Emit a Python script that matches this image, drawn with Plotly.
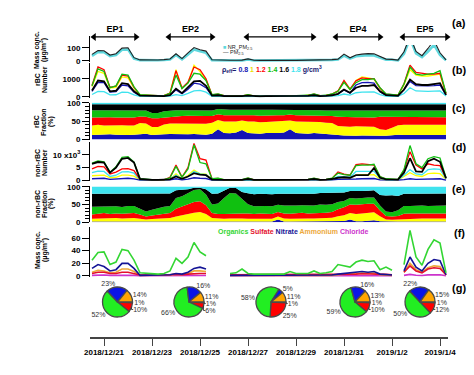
import plotly.graph_objects as go
import pandas as pd

# ---------------- data ----------------
time = pd.date_range("2018-12-20 12:00", periods=60, freq="6h")

# (a) mass concentration (ug/m3)
pm25 = [50,80,78,45,55,98,100,25,8,6, 5,7,10,15,55,18,62,102,85,75,
        9,6,5,5,5,6,16,5,4,5, 4,5,4,5,4,5,6,8,5,7,
        10,14,52,24,46,52,56,54,34,14, 12,6,70,188,72,40,95,158,62,9]
nr_pm25 = [38,68,66,36,45,85,88,18,6,4, 4,5,7,11,45,12,50,88,74,62,
           6,4,3,3,3,4,11,3,3,3, 3,3,3,3,3,3,4,6,4,5,
           8,11,40,18,36,40,44,42,27,10, 9,4,55,172,58,30,72,122,46,5]

# (b) rBC number by effective density
rbc_08 = [300,800,780,260,280,650,600,250,50,40, 35,30,30,80,380,170,420,750,700,500,
          50,70,30,22,22,25,50,22,20,25, 22,22,25,22,30,25,40,70,30,40,
          70,150,380,200,650,780,800,750,280,80, 60,45,380,850,620,600,600,620,650,90]
rbc_10 = [560,1400,1300,480,520,1100,1050,480,90,70, 60,50,55,190,1500,460,780,1750,1400,950,
          90,130,50,38,35,42,90,35,32,40, 35,38,40,35,50,42,70,130,50,70,
          140,300,850,400,900,1100,1050,980,450,130, 100,80,650,1500,1200,1150,1150,1200,1250,170]
rbc_12 = [620,1650,1500,520,580,1200,1150,520,100,75, 65,55,60,200,1450,480,800,1650,1500,1000,
          100,140,55,40,40,45,100,40,35,45, 40,40,45,40,55,45,75,140,55,75,
          150,320,900,420,880,1050,1000,1000,480,140, 110,85,720,1750,1350,1300,1250,1250,1300,180]
rbc_14 = [600,1550,1400,500,600,1250,1200,550,110,80, 70,60,60,180,1200,450,750,1300,1250,900,
          110,150,60,45,40,50,110,40,40,50, 40,45,50,40,60,50,80,150,60,80,
          150,300,800,400,780,950,950,1000,500,150, 120,90,700,1650,1250,1200,1250,1300,1450,200]
rbc_16 = [350,900,850,300,330,750,700,300,60,45, 40,35,35,90,450,200,500,850,880,600,
          60,80,35,25,25,30,60,25,22,28, 25,25,28,25,35,28,45,80,35,45,
          80,160,400,220,500,600,600,650,300,90, 70,50,400,950,700,650,650,700,750,100]
rbc_18 = [120,300,280,100,110,250,240,100,20,15, 12,10,12,30,120,60,180,320,350,250,
          20,30,12,10,10,10,20,10,8,10, 8,10,10,8,12,10,15,30,12,15,
          30,60,150,90,220,260,280,270,120,35, 25,20,180,500,320,300,300,310,320,40]

# (c) rBC fraction (%)
rbcf_08 = [12,13,12,14,13,12,12,13, 15,16,12,12,14,15, 14,13,14,15,14,13,
           16,28,18,17,19,26,18,17,16,18,17,18,19,28,18,17,16,18,17,16,15,
           12,11,10,10,11,10,10,10,10,12,13, 12,13,12,12,13,12,12,13]
rbcf_10 = [26,27,26,25,26,27,26,25, 30,28,22,22,27,29, 30,31,30,29,30,30,
           30,25,31,32,30,26,31,32,31,30,32,31,30,24,31,32,31,30,31,30,30,
           25,24,25,26,25,24,25,18,16,20,26, 28,27,28,27,28,27,28,27]
rbcf_12 = [22,21,22,22,21,22,22,22, 18,18,24,24,19,18, 20,20,21,20,20,21,
           18,16,17,17,17,16,17,17,18,18,17,17,17,16,17,17,18,18,17,18,19,
           25,26,26,25,25,26,25,34,36,30,24, 22,22,21,22,21,22,22,21]
rbcf_14 = [20,19,20,18,19,20,20,19, 17,17,14,14,17,17, 16,16,15,16,16,16,
           15,14,15,15,15,14,15,15,15,15,15,15,15,14,15,15,15,15,15,15,15,
           18,18,18,18,18,19,19,16,17,17,17, 18,18,19,18,18,19,18,18]
rbcf_16 = [16,16,16,17,17,15,16,17, 16,17,24,24,19,17, 16,16,16,16,16,16,
           17,14,16,16,16,15,16,16,17,16,16,16,16,15,16,16,17,16,17,18,18,
           16,17,17,17,17,17,17,18,17,17,16, 16,16,16,17,16,16,16,17]
rbcf_18 = [4,4,4,4,4,4,4,4, 4,4,4,4,4,4, 4,4,4,4,4,4,
           4,3,3,3,3,3,3,3,3,3,3,3,3,3,3,3,3,3,3,3,3,
           4,4,4,4,4,4,4,4,4,4,4, 4,4,4,4,4,4,4,4]

# (d) non-rBC number (x10^3)
nrbc_08 = [0.6,0.8,0.8,0.4,0.5,0.8,0.8,0.6,0.1,0.1, 0.1,0.1,0.1,0.2,0.6,0.2,0.5,1.0,0.8,0.7,
           0.1,0.1,0.1,0.1,0.1,0.1,0.2,0.1,0.1,0.1, 0.1,0.1,0.1,0.1,0.1,0.1,0.1,0.2,0.1,0.1,
           0.2,0.4,0.4,0.3,0.5,0.6,0.6,0.7,0.2,0.1, 0.1,0.1,0.3,0.6,0.4,0.4,0.5,0.6,0.6,0.1]
nrbc_10 = [1.8,2.0,2.0,1.0,1.2,2.0,2.0,1.6,0.2,0.2, 0.1,0.1,0.1,0.4,2.5,0.6,2.0,4.0,2.6,2.4,
           0.2,0.3,0.1,0.1,0.1,0.1,0.3,0.1,0.1,0.1, 0.1,0.1,0.1,0.1,0.1,0.1,0.2,0.3,0.1,0.2,
           0.3,1.2,1.0,0.9,2.0,2.2,2.1,2.2,0.5,0.2, 0.2,0.1,1.5,3.0,1.8,1.5,2.6,2.8,2.6,0.4]
nrbc_12 = [4.5,5.5,5.3,2.5,3.2,4.5,4.6,3.8,0.4,0.3, 0.2,0.2,0.2,1.2,6.0,1.3,5.0,14.5,8.5,8.0,
           0.5,0.7,0.2,0.2,0.2,0.2,0.8,0.2,0.2,0.2, 0.2,0.2,0.2,0.2,0.2,0.2,0.3,0.7,0.3,0.3,
           0.7,3.3,2.4,2.0,6.2,6.5,6.3,6.0,1.4,0.5, 0.4,0.3,4.0,11.3,6.0,4.5,6.5,6.0,5.8,0.8]
nrbc_14 = [6.8,7.6,7.3,3.2,5.3,9.0,9.3,7.2,0.6,0.4, 0.3,0.3,0.3,1.0,5.5,1.2,4.5,14.0,7.0,6.5,
           0.6,0.8,0.3,0.2,0.2,0.3,0.9,0.2,0.2,0.2, 0.2,0.2,0.2,0.3,0.2,0.3,0.4,0.8,0.3,0.4,
           0.8,2.8,2.2,2.0,5.8,6.0,6.0,6.3,1.5,0.6, 0.5,0.4,4.2,13.7,6.5,5.0,8.5,9.3,8.8,1.0]
nrbc_16 = [6.5,7.2,7.0,3.0,5.0,8.5,8.8,7.0,0.5,0.3, 0.2,0.2,0.2,0.4,1.5,0.6,1.5,2.8,2.2,2.0,
           0.3,0.4,0.2,0.2,0.2,0.2,0.5,0.2,0.2,0.2, 0.2,0.2,0.2,0.2,0.2,0.2,0.3,0.5,0.2,0.3,
           0.5,1.0,1.2,1.0,2.0,2.0,2.0,4.8,1.0,0.4, 0.3,0.3,3.0,8.7,3.5,3.3,7.5,8.5,7.3,0.8]
nrbc_18 = [3.0,3.6,3.5,1.5,2.0,3.3,3.4,2.8,0.3,0.2, 0.2,0.2,0.2,0.5,2.0,0.6,1.5,3.5,2.5,2.2,
           0.3,0.3,0.1,0.1,0.1,0.1,0.3,0.1,0.1,0.1, 0.1,0.1,0.1,0.1,0.1,0.1,0.2,0.3,0.1,0.2,
           0.3,1.5,1.3,1.2,3.5,3.5,3.4,3.5,0.8,0.3, 0.2,0.2,2.0,4.2,2.5,2.2,4.2,4.5,4.3,0.5]

# (e) non-rBC fraction (%)
nrbcf_08 = [2,2,2,2,2,2,2,2, 2,2,2,2,2,2, 2,2,3,3,3,3,
            2,2,2,2,2,2,2,2,2,2,2,8,2,2,2,2,2,2,2,2,2,
            3,4,8,3,3,4,6,3,2,2,2, 2,2,2,2,2,2,2,2]
nrbcf_10 = [8,9,10,9,10,9,10,10, 8,6,7,8,9,10, 14,18,20,24,26,20,
            10,8,8,9,10,9,8,8,9,8,8,9,9,8,9,10,9,9,10,10,11,
            14,16,18,20,22,22,22,14,6,5,6, 8,9,8,9,9,8,9,9]
nrbcf_12 = [12,13,14,12,13,13,14,14, 12,8,10,12,13,14, 22,25,28,30,30,25,
            14,13,13,14,15,14,14,13,14,14,13,14,14,14,14,15,14,14,15,15,16,
            20,22,24,26,26,26,24,16,10,9,10, 14,14,15,14,14,15,14,14]
nrbcf_14 = [22,20,20,21,20,19,20,20, 16,14,16,18,20,20, 30,28,30,34,34,30,
            24,30,45,60,58,40,26,22,21,22,22,21,22,22,22,21,22,22,23,22,22,
            20,18,18,18,18,18,18,14,12,12,16, 22,21,22,22,21,22,22,22]
nrbcf_16 = [36,36,34,36,35,37,34,34, 42,50,45,40,37,35, 22,18,12,6,4,15,
            30,28,20,15,16,20,30,34,34,33,34,33,33,33,33,32,33,33,32,33,32,
            27,24,20,20,19,19,20,30,45,48,40, 34,34,33,34,34,33,34,34]
nrbcf_18 = [20,20,20,20,20,20,20,20, 20,20,20,20,19,19, 10,9,7,3,3,7,
            20,19,12,3,4,15,18,21,20,21,21,21,20,21,20,20,20,20,18,18,17,
            16,16,12,13,12,11,10,23,25,24,26, 20,20,20,19,20,20,19,19]

# (f) NR-PM1 species (ug/m3)
organics = [25,37,38,18,22,42,40,25,5,4, 3,3,4,8,28,20,30,53,38,32,
            None,None,None,4,5,11,4,3,3,3, 4,3,3,7,4,4,4,8,4,5,
            7,18,16,14,22,25,23,24,10,14, 9,None,18,72,30,17,42,57,52,5]
sulfate = [4,6,6,4,4,6,6,4,1.5,1.5, 1.5,1.5,1.5,2,3,2,3,4,4,4,
           None,None,None,2,2,2.5,2,2,2,2, 2,2,2,2.5,2,2,2,2.5,2,2,
           2.5,3,3,3,3,3.5,3.5,3.5,2.5,2.5, 2,None,6,16,8,5,11,13,12,2]
nitrate = [12,18,15,8,10,20,20,12,1,1, 1,1,1,2,4,3,6,12,14,11,
           None,None,None,1,1,1.5,1,1,0.8,0.8, 0.8,0.8,0.8,1,0.8,0.8,0.8,1,0.8,1,
           1.5,3,4,4,6,7,6,7,3,2, 1.5,None,8,30,14,8,20,26,24,2]
ammonium = [6,9,8,5,6,11,11,7,1,1, 1,1,1,1.5,3,2,4,8,8,7,
            None,None,None,0.8,0.8,1,0.8,0.8,0.8,0.8, 0.8,0.8,0.8,0.8,0.8,0.8,0.8,1,0.8,0.8,
            1,2,3,3,4,4.5,4,4.5,2,1.5, 1,None,6,20,10,6,13,16,15,1.5]
chloride = [1,1.5,1.5,1,1,1.5,1.5,1,0.3,0.3, 0.3,0.3,0.3,0.4,0.6,0.4,0.6,1,1,0.8,
            None,None,None,0.3,0.3,0.4,0.3,0.3,0.3,0.3, 0.3,0.3,0.3,0.3,0.3,0.3,0.3,0.4,0.3,0.3,
            0.4,0.5,0.6,0.6,0.7,0.8,0.8,0.8,0.5,0.4, 0.3,None,1,2.5,1.2,0.8,1.8,2,2,0.4]

# (g) episode-mean composition (%), slices clockwise from 3 o'clock
pie_species = ["Chloride", "Sulfate", "Organics", "Nitrate", "Ammonium"]
pie_ep1 = [1, 10, 52, 23, 14]
pie_ep2 = [1, 6, 66, 16, 11]
pie_ep3 = [1, 25, 58, 5, 11]
pie_ep4 = [1, 10, 59, 16, 13]
pie_ep5 = [1, 12, 50, 22, 15]

# episodes
ep_names = ["EP1", "EP2", "EP3", "EP4", "EP5"]
ep_start = ["2018-12-20 14:00", "2018-12-23 17:00", "2018-12-26 23:00", "2018-12-30 16:00", "2019-01-02 11:00"]
ep_end = ["2018-12-22 08:00", "2018-12-25 12:00", "2018-12-29 17:00", "2019-01-01 12:00", "2019-01-04 07:00"]

density_labels = ["0.8", "1", "1.2", "1.4", "1.6", "1.8"]

# ---------------- style ----------------
W, H = 474, 375
FONT = "Liberation Sans"
C_BLUE, C_YEL, C_RED, C_GRN, C_BLK, C_CYN = "#1414B4", "#FFFF00", "#FF0000", "#10C010", "#000000", "#3FE3EE"
dens_colors = [C_BLUE, C_YEL, C_RED, C_GRN, C_BLK, C_CYN]
SP_COL = {"Organics": "#33D633", "Sulfate": "#E3102C", "Nitrate": "#141496",
          "Ammonium": "#EDA83A", "Chloride": "#CC33CC"}
PIE_COL = {"Organics": "#22EE22", "Sulfate": "#FF0000", "Nitrate": "#0A14E6",
           "Ammonium": "#FFA500", "Chloride": "#9900CC"}


def py(y_px):
    return 1 - y_px / H


def px(x_px):
    return x_px / W


fig = go.Figure()

# episode arrows (own hidden axis above panel a)
ep_x, ep_sym, lab_x = [], [], []
for s, e in zip(ep_start, ep_end):
    ep_x += [s, e, None]
    ep_sym += ["triangle-left", "triangle-right", "circle"]
    lab_x.append(pd.Timestamp(s) + (pd.Timestamp(e) - pd.Timestamp(s)) / 2)
fig.add_trace(go.Scatter(x=ep_x, y=[0.35, 0.35, None] * len(ep_names), yaxis="y7",
                         mode="lines+markers", line=dict(color="black", width=1.3),
                         marker=dict(symbol=ep_sym, size=7, color="black"),
                         showlegend=False, hoverinfo="skip", cliponaxis=False))
fig.add_trace(go.Scatter(x=lab_x, y=[0.66] * len(ep_names), yaxis="y7", mode="text",
                         text=ep_names, textfont=dict(family=FONT, size=9, color="black", weight="bold"),
                         showlegend=False, hoverinfo="skip", cliponaxis=False))

# (a)
fig.add_trace(go.Scatter(x=time, y=nr_pm25, yaxis="y", mode="lines",
                         line=dict(color="#5FD8DE", width=2.6), showlegend=False))
fig.add_trace(go.Scatter(x=time, y=pm25, yaxis="y", mode="lines",
                         line=dict(color="#222222", width=1.1), showlegend=False))

# (b)
rbc = [rbc_08, rbc_10, rbc_12, rbc_14, rbc_16, rbc_18]
for k in [1, 2, 3, 0, 5, 4]:
    fig.add_trace(go.Scatter(x=time, y=rbc[k], yaxis="y2", mode="lines",
                             line=dict(color=dens_colors[k], width=1.8 if k == 4 else 1.3),
                             showlegend=False))

# (c)
rbcf = [rbcf_08, rbcf_10, rbcf_12, rbcf_14, rbcf_16, rbcf_18]
for k in range(6):
    fig.add_trace(go.Scatter(x=time, y=rbcf[k], yaxis="y3", mode="lines", stackgroup="c",
                             groupnorm="percent", line=dict(width=0, color=dens_colors[k]),
                             fillcolor=dens_colors[k], showlegend=False))

# (d)
nrbc = [nrbc_08, nrbc_10, nrbc_12, nrbc_14, nrbc_16, nrbc_18]
for k in [1, 0, 5, 2, 3, 4]:
    fig.add_trace(go.Scatter(x=time, y=nrbc[k], yaxis="y4", mode="lines",
                             line=dict(color=dens_colors[k], width=1.8 if k == 4 else 1.3),
                             showlegend=False))

# (e)
nrbcf = [nrbcf_08, nrbcf_10, nrbcf_12, nrbcf_14, nrbcf_16, nrbcf_18]
for k in range(6):
    fig.add_trace(go.Scatter(x=time, y=nrbcf[k], yaxis="y5", mode="lines", stackgroup="e",
                             groupnorm="percent", line=dict(width=0, color=dens_colors[k]),
                             fillcolor=dens_colors[k], showlegend=False))

# (f)
species = {"Organics": organics, "Sulfate": sulfate, "Nitrate": nitrate,
           "Ammonium": ammonium, "Chloride": chloride}
for name in ["Chloride", "Ammonium", "Sulfate", "Nitrate", "Organics"]:
    fig.add_trace(go.Scatter(x=time, y=species[name], yaxis="y6", mode="lines",
                             line=dict(color=SP_COL[name], width=1.6), connectgaps=False,
                             showlegend=False))

# (g) pies
pie_data = [pie_ep1, pie_ep2, pie_ep3, pie_ep4, pie_ep5]
pie_cx = [117.5, 189, 271, 355, 420]
pie_cy, pie_r = 302, 15
for vals, cx in zip(pie_data, pie_cx):
    fig.add_trace(go.Pie(values=vals, labels=pie_species, sort=False,
                         direction="clockwise", rotation=90,
                         domain=dict(x=[px(cx - pie_r), px(cx + pie_r)],
                                     y=[py(pie_cy + pie_r), py(pie_cy - pie_r)]),
                         marker=dict(colors=[PIE_COL[s] for s in pie_species],
                                     line=dict(color="#4a4a4a", width=1.3)),
                         text=[f"{v}%" for v in vals], textinfo="text", textposition="outside",
                         textfont=dict(family=FONT, size=7, color="#333333"),
                         showlegend=False, hoverinfo="skip", automargin=False))

# ---------------- axes ----------------
XD = [px(90), px(448)]
fig.update_layout(
    xaxis=dict(domain=XD, anchor="free", position=py(338), type="date",
               range=["2018-12-20 10:00", "2019-01-04 08:00"],
               tick0="2018-12-21", dtick=2 * 86400000, tickformat="%Y/%-m/%-d",
               ticks="outside", ticklen=7, tickwidth=1.3, tickcolor="#444",
               showline=True, linecolor="#444", linewidth=1.5,
               tickfont=dict(family=FONT, size=8, color="black", weight="bold"),
               showgrid=False, zeroline=False, automargin=False, ticklabeloverflow="allow"),
)

yax_common = dict(anchor="x", showline=True, linecolor="black", linewidth=1,
                  ticks="outside", ticklen=7, tickwidth=1, tickcolor="black",
                  tickfont=dict(family=FONT, size=8, color="black", weight="bold"),
                  showgrid=False, zeroline=False, automargin=False,
                  ticklabeloverflow="allow", showticklabels=True)
minor_ticks = dict(ticks="outside", dtick=10, ticklen=4, tickcolor="black")

fig.update_layout(
    yaxis=dict(domain=[py(62), py(36)], range=[-8, 190], tickvals=[0, 100], **yax_common),
    yaxis2=dict(domain=[py(97.5), py(63)], range=[-44, 1872], tickvals=[0, 1000], **yax_common),
    yaxis3=dict(domain=[py(139.5), py(102.5)], range=[0, 101], tickvals=[0, 50, 100],
                minor=minor_ticks, **yax_common),
    yaxis4=dict(domain=[py(181), py(142)], range=[-0.28, 15.1], tickvals=[0, 5, 10],
                ticktext=["0", "5", "10 x10<sup>3</sup>"], **yax_common),
    yaxis5=dict(domain=[py(222.3), py(186)], range=[0, 102], tickvals=[0, 50, 100],
                minor=minor_ticks, **yax_common),
    yaxis6=dict(domain=[py(277), py(227)], range=[-1.6, 77.4], tickvals=[0, 20, 40, 60], **yax_common),
    yaxis7=dict(domain=[py(45), py(22)], range=[0, 1], anchor="x", visible=False),
)

# ---------------- annotations ----------------
ann = []
bold = lambda s, c="black": dict(family=FONT, size=s, color=c, weight="bold")

# panel letters
for lab, yy in zip(["(a)", "(b)", "(c)", "(d)", "(e)", "(f)", "(g)"],
                   [23, 70, 108, 147, 189, 233, 288]):
    ann.append(dict(x=px(459), y=py(yy), xref="paper", yref="paper", text=lab, showarrow=False,
                    font=bold(11), xanchor="center", yanchor="middle"))

# y titles: one annotation per line, lines 7 px apart
titles = [(["Mass conc.", "(μg/m<sup>3</sup>)"], 50), (["rBC", "Number"], 80),
          (["rBC", "Fraction", "(%)"], 122), (["non-rBC", "Number"], 163),
          (["non-rBC", "Fraction", "(%)"], 204), (["Mass conc.", "(μg/m<sup>3</sup>)"], 250)]
for lines, yy in titles:
    for j, t in enumerate(lines):
        ann.append(dict(x=px(37 + 7 * j), y=py(yy), xref="paper", yref="paper", text=t,
                        showarrow=False, textangle=-90, font=bold(7),
                        xanchor="center", yanchor="middle"))

# (a) legend
ann.append(dict(x=px(221), y=py(47.5), xref="paper", yref="paper", showarrow=False,
                text="<span style='color:#5FD8DE'>■</span> NR_PM<sub>2.5</sub>",
                font=dict(family=FONT, size=5.5, color="#222"), xanchor="left", yanchor="middle"))
ann.append(dict(x=px(221), y=py(52.5), xref="paper", yref="paper", showarrow=False,
                text="— PM<sub>2.5</sub>",
                font=dict(family=FONT, size=5.5, color="#222"), xanchor="left", yanchor="middle"))

# (b) density legend
dens_txt = "<span style='color:#1a1a70'>ρ<sub>eff</sub>= </span>" + " ".join(
    f"<span style='color:{c}'>{l}</span>" for l, c in
    zip(density_labels, ["#1414B4", "#E8E000", "#FF0000", "#10C010", "#000000", "#3FE3EE"])
) + " <span style='color:#1a1a70'>g/cm<sup>3</sup></span>"
ann.append(dict(x=px(272), y=py(70), xref="paper", yref="paper", text=dens_txt, showarrow=False,
                font=bold(7), xanchor="center", yanchor="middle"))

# (f) species legend
sp_txt = " ".join(f"<span style='color:{SP_COL[n]}'>{n}</span>"
                  for n in ["Organics", "Sulfate", "Nitrate", "Ammonium", "Chloride"])
ann.append(dict(x=px(293), y=py(232), xref="paper", yref="paper", text=sp_txt, showarrow=False,
                font=bold(7), xanchor="center", yanchor="middle"))

fig.update_layout(
    annotations=ann,
    width=W, height=H,
    margin=dict(l=0, r=0, t=0, b=0),
    paper_bgcolor="white", plot_bgcolor="white",
    template="none",
    showlegend=False,
    font=dict(family=FONT, color="black"),
)

fig.write_html("out.html", config={"displayModeBar": False},
               post_script="document.body.style.margin='0';document.body.style.overflow='hidden';")
